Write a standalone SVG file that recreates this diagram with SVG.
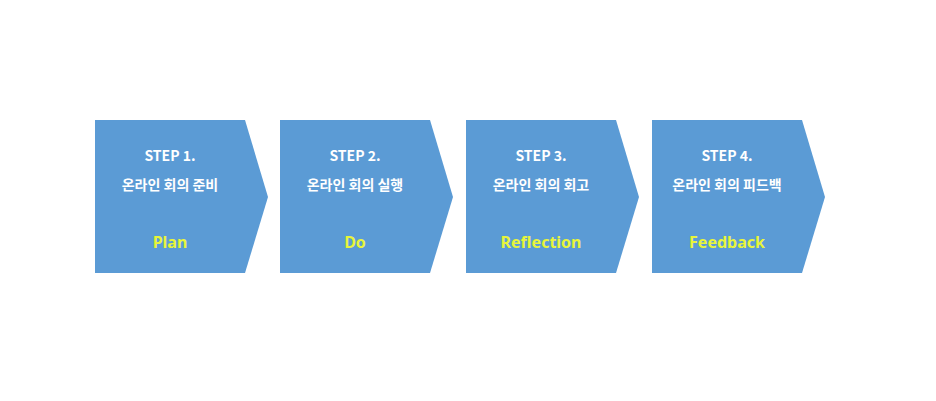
<svg xmlns="http://www.w3.org/2000/svg" width="936" height="401" viewBox="0 0 936 401">
<style>
.s{fill:#5B9BD5}
.w{fill:#fff;font-family:"Noto Sans CJK KR","Noto Sans",sans-serif;font-weight:bold;font-size:14px;text-anchor:middle}
.y{fill:#E8F53A;font-family:"Noto Sans","Open Sans",sans-serif;font-weight:bold;font-size:16px;text-anchor:middle}
</style>
<rect width="936" height="401" fill="#fff"/>
<g id="step1"><path class="s" d="M95 120H245L268 197L245 273H95Z"/><text class="w" x="170" y="161">STEP 1.</text><text class="w" x="170" y="190">온라인 회의 준비</text><text class="y" x="170" y="248">Plan</text></g>
<g id="step2"><path class="s" d="M280 120H430L453 197L430 273H280Z"/><text class="w" x="355" y="161">STEP 2.</text><text class="w" x="355" y="190">온라인 회의 실행</text><text class="y" x="355" y="248">Do</text></g>
<g id="step3"><path class="s" d="M466 120H616L639 197L616 273H466Z"/><text class="w" x="541" y="161">STEP 3.</text><text class="w" x="541" y="190">온라인 회의 회고</text><text class="y" x="541" y="248">Reflection</text></g>
<g id="step4"><path class="s" d="M652 120H802L825 197L802 273H652Z"/><text class="w" x="727" y="161">STEP 4.</text><text class="w" x="727" y="190">온라인 회의 피드백</text><text class="y" x="727" y="248">Feedback</text></g>
<g id="connectors"/>
</svg>
